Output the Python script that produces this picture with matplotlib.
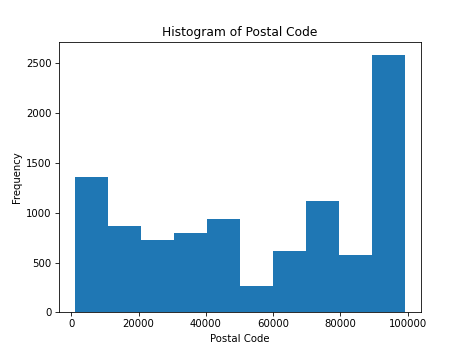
import numpy as np
import matplotlib
matplotlib.use("Agg")
import matplotlib.pyplot as plt

# 히스토그램 값
code_min = 1100
code_max = 99100
counts = [1357, 869, 722, 795, 942, 261, 615, 1116, 575, 2583]

edges = np.linspace(code_min, code_max, len(counts) + 1)
centers = (edges[:-1] + edges[1:]) / 2

fig, ax = plt.subplots(figsize=(6.4, 4.8), dpi=73.125)
ax.hist(centers, bins=edges, weights=counts, color="#1f77b4")

ax.set_title("Histogram of Postal Code")
ax.set_xlabel("Postal Code")
ax.set_ylabel("Frequency")

plt.savefig("out.png")
plt.close()
